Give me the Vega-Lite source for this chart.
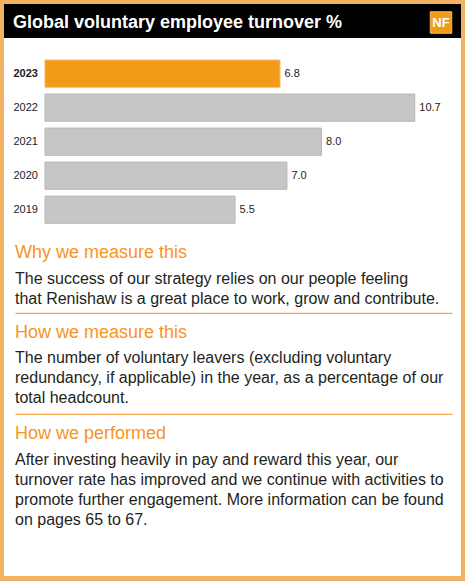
{
  "$schema": "https://vega.github.io/schema/vega-lite/v6.json",
  "background": "#f1b363",
  "padding": {"left": 4, "top": 4, "right": 4, "bottom": 5},
  "spacing": 0,
  "bounds": "flush",
  "config": {
    "view": {"stroke": null},
    "font": "Liberation Sans",
    "text": {"font": "Liberation Sans"}
  },
  "vconcat": [
    {
      "width": 457,
      "height": 34,
      "view": {"fill": "#000000", "stroke": null},
      "data": {"values": [{"title": "Global voluntary employee turnover %", "badge": "NF"}]},
      "layer": [
        {
          "mark": {"type": "text", "color": "#ffffff", "fontSize": 18, "fontWeight": "bold", "align": "left", "baseline": "alphabetic", "dy": 7},
          "encoding": {
            "x": {"datum": 0, "type": "quantitative", "scale": {"domain": [0, 1], "range": [9, 437], "nice": false, "zero": false}, "axis": null},
            "text": {"field": "title"}
          }
        },
        {
          "mark": {"type": "point", "shape": "square", "filled": true, "opacity": 1, "size": 462, "color": "#f39a17", "stroke": "#f7b865", "strokeWidth": 1, "yOffset": 1.5},
          "encoding": {"x": {"datum": 1, "type": "quantitative"}}
        },
        {
          "mark": {"type": "text", "color": "#ffffff", "fontSize": 13, "fontWeight": "bold", "align": "center", "baseline": "middle", "dy": 1.5},
          "encoding": {"x": {"datum": 1, "type": "quantitative"}, "text": {"field": "badge"}}
        }
      ]
    },
    {
      "width": 457,
      "height": 200,
      "view": {"fill": "#ffffff", "stroke": null},
      "data": {
        "values": [
          {"year": "2023", "turnover": 6.8},
          {"year": "2022", "turnover": 10.7},
          {"year": "2021", "turnover": 8.0},
          {"year": "2020", "turnover": 7.0},
          {"year": "2019", "turnover": 5.5}
        ]
      },
      "encoding": {
        "y": {
          "field": "year",
          "type": "nominal",
          "sort": null,
          "scale": {"paddingInner": 0.2, "paddingOuter": 0.54, "align": 0.6},
          "axis": {
            "orient": "left",
            "offset": -9,
            "domain": false,
            "ticks": false,
            "grid": false,
            "title": null,
            "labelAlign": "left",
            "labelPadding": 0,
            "labelFont": "Liberation Sans",
            "labelFontSize": 11,
            "labelColor": "#222222",
            "labelFontWeight": {"condition": {"test": "datum.value === '2023'", "value": "bold"}, "value": "normal"}
          }
        }
      },
      "layer": [
        {
          "mark": {"type": "bar", "strokeWidth": 1},
          "encoding": {
            "x": {"field": "turnover", "type": "quantitative", "scale": {"domain": [-1.186, 12.037], "nice": false, "zero": false}, "axis": null},
            "x2": {"datum": 0},
            "color": {"condition": {"test": "datum.year === '2023'", "value": "#f39a17"}, "value": "#c6c6c6"},
            "stroke": {"condition": {"test": "datum.year === '2023'", "value": "#f7b865"}, "value": "#b7b7b7"}
          }
        },
        {
          "mark": {"type": "text", "align": "left", "baseline": "middle", "dx": 4.5, "fontSize": 11, "color": "#222222"},
          "encoding": {
            "x": {"field": "turnover", "type": "quantitative"},
            "text": {"field": "turnover", "type": "quantitative", "format": ".1f"},
            "fontWeight": {"condition": {"test": "datum.year === '2023'", "value": "bold"}, "value": "normal"}
          }
        }
      ]
    },
    {
      "width": 457,
      "height": 76,
      "view": {"fill": "#ffffff", "stroke": null},
      "data": {
        "values": [
          {"heading": "Why we measure this", "body": ["The success of our strategy relies on our people feeling", "that Renishaw is a great place to work, grow and contribute."]}
        ]
      },
      "encoding": {
        "x": {"datum": 0, "type": "quantitative", "scale": {"domain": [0, 1], "range": [11, 448], "nice": false, "zero": false},
          "axis": {"orient": "bottom", "offset": -1, "domainColor": "#f5a94a", "domainWidth": 1.5, "ticks": false, "labels": false, "grid": false, "title": null}}
      },
      "layer": [
        {"mark": {"type": "text", "align": "left", "baseline": "alphabetic", "fontSize": 18, "color": "#f7941d", "dy": -17.7}, "encoding": {"text": {"field": "heading"}}},
        {"mark": {"type": "text", "align": "left", "baseline": "alphabetic", "fontSize": 16, "lineHeight": 20, "color": "#231f20", "dy": 8.3}, "encoding": {"text": {"field": "body"}}}
      ]
    },
    {
      "width": 457,
      "height": 101,
      "view": {"fill": "#ffffff", "stroke": null},
      "data": {
        "values": [
          {"heading": "How we measure this", "body": ["The number of voluntary leavers (excluding voluntary", "redundancy, if applicable) in the year, as a percentage of our", "total headcount."]}
        ]
      },
      "encoding": {
        "x": {"datum": 0, "type": "quantitative", "scale": {"domain": [0, 1], "range": [11, 448], "nice": false, "zero": false},
          "axis": {"orient": "bottom", "offset": -1, "domainColor": "#f5a94a", "domainWidth": 1.5, "ticks": false, "labels": false, "grid": false, "title": null}}
      },
      "layer": [
        {"mark": {"type": "text", "align": "left", "baseline": "alphabetic", "fontSize": 18, "color": "#f7941d", "dy": -26.2}, "encoding": {"text": {"field": "heading"}}},
        {"mark": {"type": "text", "align": "left", "baseline": "alphabetic", "fontSize": 16, "lineHeight": 20, "color": "#231f20", "dy": -1.2}, "encoding": {"text": {"field": "body"}}}
      ]
    },
    {
      "width": 457,
      "height": 161,
      "view": {"fill": "#ffffff", "stroke": null},
      "data": {
        "values": [
          {"heading": "How we performed", "body": ["After investing heavily in pay and reward this year, our", "turnover rate has improved and we continue with activities to", "promote further engagement. More information can be found", "on pages 65 to 67."]}
        ]
      },
      "encoding": {
        "x": {"datum": 0, "type": "quantitative", "scale": {"domain": [0, 1], "range": [11, 448], "nice": false, "zero": false}, "axis": null}
      },
      "layer": [
        {"mark": {"type": "text", "align": "left", "baseline": "alphabetic", "fontSize": 18, "color": "#f7941d", "dy": -56.2}, "encoding": {"text": {"field": "heading"}}},
        {"mark": {"type": "text", "align": "left", "baseline": "alphabetic", "fontSize": 16, "lineHeight": 20, "color": "#231f20", "dy": -30.5}, "encoding": {"text": {"field": "body"}}}
      ]
    }
  ]
}
